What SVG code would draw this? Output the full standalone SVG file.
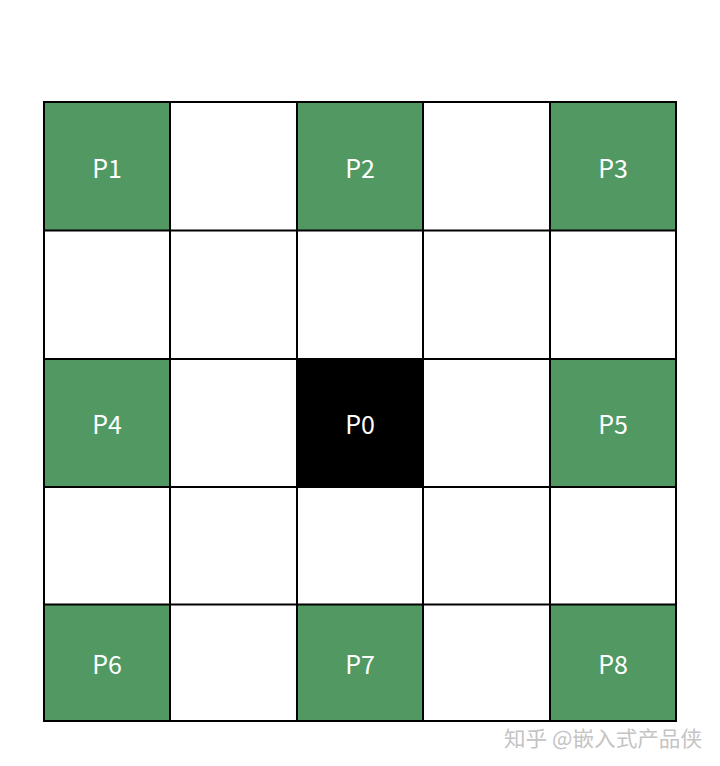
<svg xmlns="http://www.w3.org/2000/svg" width="720" height="766" viewBox="0 0 720 766">
<style>
.g{fill:#519863}
.w{fill:#ffffff}
.k{fill:#000000}
.c{stroke:#000;stroke-width:2}
.t{font-family:"Noto Sans CJK SC","Noto Sans",sans-serif;font-size:25px;fill:#ffffff;text-anchor:middle}
.wm{font-family:"Noto Sans CJK SC","Noto Sans",sans-serif;font-size:21px;fill:#c4c4c4}
</style>
<rect x="0" y="0" width="720" height="766" fill="#ffffff"/>
<g id="cells">
<g id="P1"><rect class="g" x="44" y="102" width="126" height="128.5"/><text class="t" x="107" y="178">P1</text></g>
<rect class="w" x="170" y="102" width="127" height="128.5"/>
<g id="P2"><rect class="g" x="297" y="102" width="126" height="128.5"/><text class="t" x="360" y="178">P2</text></g>
<rect class="w" x="423" y="102" width="127" height="128.5"/>
<g id="P3"><rect class="g" x="550" y="102" width="126" height="128.5"/><text class="t" x="613" y="178">P3</text></g>
<g id="P4"><rect class="g" x="44" y="359" width="126" height="128"/><text class="t" x="107" y="434">P4</text></g>
<g id="P0"><rect class="k" x="297" y="359" width="126" height="128"/><text class="t" x="360" y="434">P0</text></g>
<g id="P5"><rect class="g" x="550" y="359" width="126" height="128"/><text class="t" x="613" y="434">P5</text></g>
<g id="P6"><rect class="g" x="44" y="604.5" width="126" height="116.5"/><text class="t" x="107" y="674">P6</text></g>
<g id="P7"><rect class="g" x="297" y="604.5" width="126" height="116.5"/><text class="t" x="360" y="674">P7</text></g>
<g id="P8"><rect class="g" x="550" y="604.5" width="126" height="116.5"/><text class="t" x="613" y="674">P8</text></g>
</g>
<g id="grid" fill="none" class="c">
<rect x="44" y="102" width="632" height="619"/>
<line x1="170" y1="102" x2="170" y2="721"/>
<line x1="297" y1="102" x2="297" y2="721"/>
<line x1="423" y1="102" x2="423" y2="721"/>
<line x1="550" y1="102" x2="550" y2="721"/>
<line x1="44" y1="230.5" x2="676" y2="230.5"/>
<line x1="44" y1="359" x2="676" y2="359"/>
<line x1="44" y1="487" x2="676" y2="487"/>
<line x1="44" y1="604.5" x2="676" y2="604.5"/>
</g>
<text class="wm" x="504" y="746" textLength="198" lengthAdjust="spacingAndGlyphs">知乎 @嵌入式产品侠</text>
</svg>
